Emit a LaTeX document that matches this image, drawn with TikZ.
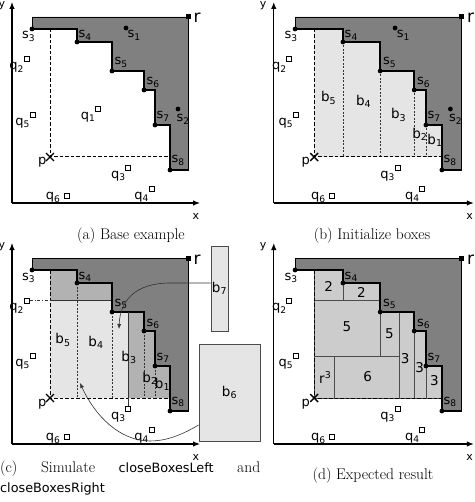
\documentclass[tikz,border=0pt]{standalone}
\usepackage{fontspec}
\setsansfont{DejaVu Sans}
\usetikzlibrary{arrows.meta,positioning,shapes.misc}

\definecolor{darkreg}{gray}{0.5}
\definecolor{lightbox}{gray}{0.9}
\definecolor{midbox}{gray}{0.7}
\definecolor{resbox}{gray}{0.8}

\tikzset{
  axis/.style={line width=1.1pt,-{Latex[length=7pt,width=5.5pt]}},
  axlbl/.style={font=\fontsize{11}{12}\sffamily,inner sep=0pt},
  lbl/.style={font=\fontsize{13}{14}\sffamily,inner sep=0pt,anchor=base west},
  blbl/.style={font=\fontsize{13.5}{14}\sffamily,inner sep=0pt},
  sdot/.style={circle,fill=black,inner sep=0pt,minimum size=4.8pt},
  qbox/.style={draw,line width=1pt,fill=white,inner sep=0pt,minimum size=5pt},
  rbox/.style={fill=black,inner sep=0pt,minimum size=5pt},
  pcross/.style={draw,cross out,line width=1.4pt,inner sep=0pt,minimum size=6.5pt},
  pline/.style={line width=1pt,dash pattern=on 3.5pt off 2pt},
  vdash/.style={line width=0.5pt,dash pattern=on 2pt off 1.5pt,black!80},
  stair/.style={line width=1.6pt},
  captxt/.style={font=\fontsize{15.5}{20}\selectfont,inner sep=0pt},
  boxd/.style={fill=resbox,draw=black!70,line width=0.6pt},
  sidebox/.style={fill=lightbox,draw=black!70,line width=0.8pt,inner sep=0pt,font=\fontsize{13.5}{14}\sffamily},
  move/.style={line width=0.6pt,black!80,-{Latex[length=5pt,width=4pt]}}
}

% axes, skyline region, staircase and points shared by the four panels
\def\basepanel#1{%
  \draw[axis] (12,203) -- (12,2);
  \draw[axis] (12,203) -- (200,203);
  \node[axlbl] (#1-y) at (2,6) {y};
  \node[axlbl] (#1-x) at (196,216) {x};
  \filldraw[fill=darkreg,line width=0.9pt] (32,17) -- (188,17) -- (188,170) -- (170,170) -- (170,125) -| (155,90) -| (144,71) -| (112,42) -| (77,29) -| (32,17) -- cycle;
  \draw[stair] (32,29) -| (77,42) -| (112,71) -| (144,90) -| (155,125) -| (170,170) -- (188,170);
  \node[rbox] (#1-r) at (188,17) {};
  \node[lbl,font=\fontsize{17}{18}\sffamily] (#1-rl) at (193.5,23) {r};
  \node[sdot] (#1-s3) at (32,29) {};
  \node[sdot] (#1-s4) at (77,42) {};
  \node[sdot] (#1-s5) at (112,71) {};
  \node[sdot] (#1-s6) at (144,90) {};
  \node[sdot] (#1-s7) at (155,125) {};
  \node[sdot] (#1-s8) at (170,170) {};
  \node[lbl] (#1-s3l) at (22,39) {s\textsubscript{3}};
  \node[lbl] (#1-s4l) at (78.5,38) {s\textsubscript{4}};
  \node[lbl] (#1-s5l) at (114.5,65) {s\textsubscript{5}};
  \node[lbl] (#1-s6l) at (146.5,85) {s\textsubscript{6}};
  \node[lbl] (#1-s7l) at (156.5,119) {s\textsubscript{7}};
  \node[lbl] (#1-s8l) at (171.5,163) {s\textsubscript{8}};
  \coordinate (#1-top) at (50,29);
  \coordinate (#1-end) at (170,157);
  \coordinate (#1-pc) at (50,157);
  \draw[pline] (#1-top) -- (#1-pc) -- (#1-end);
  \node[pcross] (#1-p) at (#1-pc) {};
  \node[lbl] (#1-pl) at (38,165) {p};
  \node[qbox] (#1-q2) at (26.7,59.5) {};
  \node[qbox] (#1-q5) at (32.7,115) {};
  \node[qbox] (#1-q3) at (128.3,167.7) {};
  \node[qbox] (#1-q4) at (151.7,189) {};
  \node[qbox] (#1-q6) at (66.7,195.7) {};
  \node[lbl,below left=0pt and -0.5pt of #1-q2] (#1-q2l) {q\textsubscript{2}};
  \node[lbl,below left=0pt and -0.5pt of #1-q5] (#1-q5l) {q\textsubscript{5}};
  \node[lbl,below left=0pt and -0.5pt of #1-q3] (#1-q3l) {q\textsubscript{3}};
  \node[lbl,below left=0pt and -0.5pt of #1-q4] (#1-q4l) {q\textsubscript{4}};
  \node[lbl,left=3pt of #1-q6,yshift=-1.5pt] (#1-q6l) {q\textsubscript{6}};
}

\begin{document}
\begin{tikzpicture}[x=1pt,y=-1pt]
\useasboundingbox (0,0) rectangle (474,502);

% (a) base example
\begin{scope}
  \basepanel{a}
  \node[sdot] (a-s1) at (126,28) {};
  \node[sdot] (a-s2) at (178,109) {};
  \node[lbl] (a-s1l) at (127.5,38) {s\textsubscript{1}};
  \node[lbl] (a-s2l) at (176.5,122) {s\textsubscript{2}};
  \node[qbox] (a-q1) at (98,109) {};
  \node[lbl,below left=0pt and -0.5pt of a-q1] (a-q1l) {q\textsubscript{1}};
\end{scope}

% (b) initialize boxes
\begin{scope}[x=1.064pt,shift={(261pt,0pt)}]
  \fill[lightbox] (50,29) -| (77,42) -| (112,71) -| (144,90) -| (155,125) -| (170,157) -- (50,157) -- cycle;
  \draw[vdash] (77,42) -- (77,157);
  \draw[vdash] (112,71) -- (112,157);
  \draw[vdash] (144,90) -- (144,157);
  \draw[vdash] (155,125) -- (155,157);
  \basepanel{b}
  \node[sdot] (b-s1) at (126,28) {};
  \node[sdot] (b-s2) at (178,109) {};
  \node[lbl] (b-s1l) at (127.5,38) {s\textsubscript{1}};
  \node[lbl] (b-s2l) at (176.5,122) {s\textsubscript{2}};
  \node[blbl] (b-b5) at (63.6,98) {b\textsubscript{5}};
  \node[blbl] (b-b4) at (96.5,101) {b\textsubscript{4}};
  \node[blbl] (b-b3) at (129.4,115) {b\textsubscript{3}};
  \node[blbl] (b-b2) at (149.4,134) {b\textsubscript{2}};
  \node[blbl] (b-b1) at (163.5,140) {b\textsubscript{1}};
\end{scope}

% (c) simulate closing left and right
\begin{scope}[shift={(0pt,-241pt)}]
  \fill[lightbox] (50,29) -| (77,42) -| (112,71) -| (144,90) -| (155,125) -| (170,157) -- (50,157) -- cycle;
  \fill[midbox] (50,29) -| (77,42) -| (112,59.5) -- (50,59.5) -- cycle;
  \fill[midbox] (128.3,71) -| (144,90) -| (155,125) -| (170,157) -- (128.3,157) -- cycle;
  \draw[vdash] (77,42) -- (77,157);
  \draw[vdash] (112,71) -- (112,157);
  \draw[vdash] (144,90) -- (144,157);
  \draw[vdash] (155,125) -- (155,157);
  \draw[line width=0.6pt,black!80] (50,59.5) -- (112,59.5);
  \basepanel{c}
  \draw[line width=0.6pt,black!80,dash dot] (c-q2) -- (c-q2 -| c-pc);
  \draw[line width=0.6pt,black!80] (c-q3) -- (c-q3 |- c-s5);
  \node[blbl] (c-b5) at (63,99) {b\textsubscript{5}};
  \node[blbl] (c-b4) at (96,101.5) {b\textsubscript{4}};
  \node[blbl] (c-b3) at (129,116.5) {b\textsubscript{3}};
  \node[blbl] (c-b2) at (150,137) {b\textsubscript{2}};
  \node[blbl] (c-b1) at (162.5,143) {b\textsubscript{1}};
  \node[sidebox,minimum width=17pt,minimum height=85pt] (c-b7) at (219.5,47.5) {b\textsubscript{7}};
  \node[sidebox,minimum width=61pt,minimum height=97pt] (c-b6) at (229.5,151.5) {b\textsubscript{6}};
  \draw[move] ([yshift=5.5pt]c-b7.west) -- (170,42) .. controls (135,42) and (120,60) .. (119,88);
  \draw[move] ([yshift=-32.5pt]c-b6.west) .. controls (180,195) and (165,200) .. (150,200) .. controls (120,200) and (95,175) .. (80,142);
\end{scope}

% (d) expected result
\begin{scope}[x=1.064pt,shift={(261pt,-241pt)}]
  \filldraw[boxd] (50,29) rectangle (77,59);
  \filldraw[boxd] (77,42) rectangle (112,59);
  \filldraw[boxd] (50,59) rectangle (112,115);
  \filldraw[boxd] (112,71) rectangle (130,115);
  \filldraw[boxd] (130,71) rectangle (144,157);
  \filldraw[boxd] (144,90) rectangle (155,157);
  \filldraw[boxd] (155,125) rectangle (170,157);
  \filldraw[boxd] (50,115) rectangle (68.5,157);
  \filldraw[boxd] (68.5,115) rectangle (130,157);
  \basepanel{d}
  \node[blbl] (d-n1) at (63.6,45) {2};
  \node[blbl] (d-n2) at (94.3,51.7) {2};
  \node[blbl] (d-n3) at (80.8,86) {5};
  \node[blbl] (d-n4) at (120.6,92.7) {5};
  \node[blbl] (d-n5) at (135.6,118) {3};
  \node[blbl] (d-n6) at (149,127) {3};
  \node[blbl] (d-n7) at (163,140) {3};
  \node[blbl] (d-n8) at (100.3,136) {6};
  \node[blbl] (d-n9) at (60.4,136.7) {r\textsuperscript{3}};
\end{scope}

% captions
\node[captxt,anchor=base] (a-cap) at (131,240) {(a) Base example};
\node[captxt,anchor=base] (b-cap) at (372,240) {(b) Initialize boxes};
\node[captxt,anchor=base west,text width=260pt,align=justify] (c-cap) at (0,472)
  {(c) Simulate {\fontsize{12.8}{20}\sffamily closeBoxesLeft} and\linebreak \mbox{\fontsize{12.8}{20}\sffamily closeBoxesRight}};
\node[captxt,anchor=base] (d-cap) at (373,479.5) {(d) Expected result};
\end{tikzpicture}
\end{document}
